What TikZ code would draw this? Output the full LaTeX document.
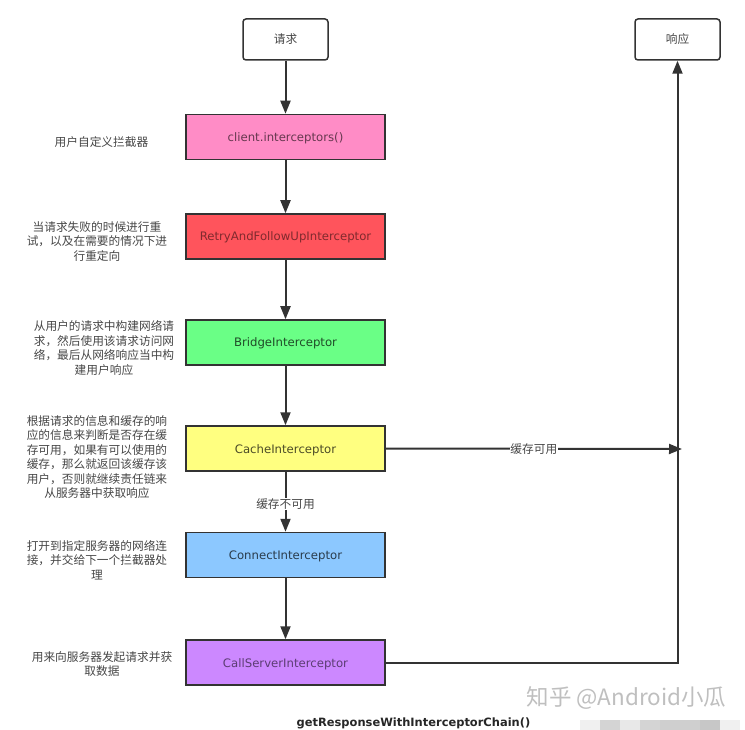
\documentclass[tikz,border=0pt]{standalone}
\usepackage{fontspec}
\setmainfont{DejaVu Sans}
\newfontfamily\cjk{Noto Sans CJK SC}
\usetikzlibrary{arrows.meta}
\definecolor{inkgray}{RGB}{51,51,51}
\definecolor{capgray}{RGB}{70,70,70}
\definecolor{pinkfill}{RGB}{255,140,198}
\definecolor{redfill}{RGB}{255,84,92}
\definecolor{greenfill}{RGB}{106,255,134}
\definecolor{yellowfill}{RGB}{255,255,128}
\definecolor{bluefill}{RGB}{140,200,255}
\definecolor{purplefill}{RGB}{204,136,255}
\tikzset{every picture/.style={line width=1.5pt}}
\tikzset{
  endbox/.style={draw=inkgray,rounded corners=3pt,minimum width=85pt,minimum height=41pt,text=capgray,font=\cjk\fontsize{11.7}{13}\selectfont},
  stagebox/.style={draw=inkgray,minimum width=199pt,minimum height=45pt,text height=11pt,text depth=2pt,font=\fontsize{11.7}{13}\selectfont},
  caption/.style={align=center,inner sep=0pt,text=capgray,font=\cjk\fontsize{11.7}{14.4}\selectfont},
  edgelabel/.style={fill=white,inner sep=0.5pt,text=capgray,font=\cjk\fontsize{11.7}{13}\selectfont},
  flow/.style={draw=inkgray,line width=2pt,-{Triangle[length=13pt,width=10pt]}}
}

\begin{document}
\begin{tikzpicture}[x=1pt,y=1pt,yscale=-1,xscale=1]
\useasboundingbox (0,0) rectangle (745,730);

% Boxes
\draw (285.5,39.5) node [endbox] (request) {请求};
\draw (677.5,39.5) node [endbox] (response) {响应};
\draw (285.5,137) node [stagebox,fill=pinkfill,text=pinkfill!40!black] (client) {client.interceptors()};
\draw (285.5,236.5) node [stagebox,fill=redfill,text=redfill!50!black] (retry) {RetryAndFollowUpInterceptor};
\draw (285.5,342.5) node [stagebox,fill=greenfill,text=greenfill!30!black] (bridge) {BridgeInterceptor};
\draw (285.5,448.5) node [stagebox,fill=yellowfill,text=yellowfill!30!black] (cache) {CacheInterceptor};
\draw (285.5,555) node [stagebox,fill=bluefill,text=bluefill!30!black] (connect) {ConnectInterceptor};
\draw (285.5,662.5) node [stagebox,fill=purplefill,text=purplefill!45!black] (callserver) {CallServerInterceptor};

% Straight Lines
\draw [flow] (request) -- (client);
\draw [flow] (client) -- (retry);
\draw [flow] (retry) -- (bridge);
\draw [flow] (bridge) -- (cache);
\draw [flow] (cache) -- (connect) node [edgelabel,pos=0.54] (cachemiss) {缓存不可用};
\draw [flow] (connect) -- (callserver);
\coordinate (corner) at (response.south |- callserver.east);
\coordinate (cachehit) at (682,449);
\draw [flow] (callserver.east) -- (corner) -- (response.south);
\draw [flow] (cache.east) -- (cachehit) node [edgelabel,pos=0.5] (hitlabel) {缓存可用};

% Text Node
\draw (101.5,142) node [caption] (clientnote) {用户自定义拦截器};
\draw (97,241.5) node [caption] (retrynote) {当请求失败的时候进行重\\试，以及在需要的情况下进\\行重定向};
\draw (104,348) node [caption] (bridgenote) {从用户的请求中构建网络请\\求，然后使用该请求访问网\\络，最后从网络响应当中构\\建用户响应};
\draw (97,457) node [caption] (cachenote) {根据请求的信息和缓存的响\\应的信息来判断是否存在缓\\存可用，如果有可以使用的\\缓存，那么就返回该缓存该\\用户，否则就继续责任链来\\从服务器中获取响应};
\draw (97,560) node [caption] (connectnote) {打开到指定服务器的网络连\\接，并交给下一个拦截器处\\理};
\draw (102,664) node [caption] (callnote) {用来向服务器发起请求并获\\取数据};
\draw (413.5,723) node [inner sep=0pt,text=black!85,font=\bfseries\fontsize{11.45}{13}\selectfont] (chain) {getResponseWithInterceptorChain()};
\draw (626.5,698) node [inner sep=0pt,text=black!25,font=\cjk\fontsize{22.5}{24}\selectfont] (mark) {知乎 @Android小瓜};

% Mosaic
\foreach \x/\shade in {580/6,600/17,620/9,640/17,660/19,680/19,700/22,720/6}
  \fill [black!\shade] (\x,720) rectangle ++(20,10);

\end{tikzpicture}
\end{document}
